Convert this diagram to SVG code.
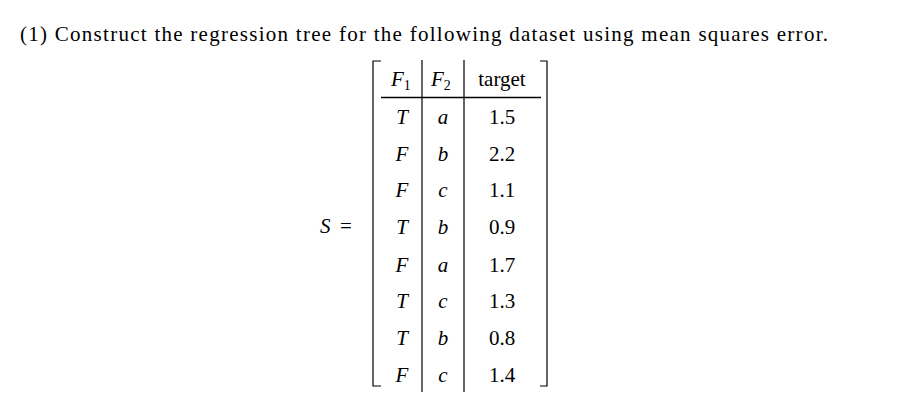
<svg xmlns="http://www.w3.org/2000/svg" width="922" height="406" viewBox="0 0 922 406">
<style>
text{font-family:"Liberation Serif","DejaVu Serif",serif;font-size:21px;fill:#000}
.i{font-style:italic}
.c{text-anchor:middle}
.l{stroke:#000;stroke-width:1.2;fill:none}
</style>
<rect width="922" height="406" fill="#fff"/>
<text x="20" y="41" font-size="22" textLength="808" lengthAdjust="spacing">(1) Construct the regression tree for the following dataset using mean squares error.</text>
<text x="320" y="233" class="i">S</text><text x="340" y="233">=</text>
<path class="l" d="M381,61H373V386H381M540,61H547V386H540" stroke-width="1.6"/>
<path class="l" d="M422,60V392M464,60V392"/>
<path d="M381,97.5H541" stroke="#000" stroke-width="1.4"/>
<text x="391" y="86" class="i">F<tspan font-size="14" font-style="normal" dy="4">1</tspan></text>
<text x="431" y="86" class="i">F<tspan font-size="14" font-style="normal" dy="4">2</tspan></text>
<text x="502" y="86" class="c">target</text>
<g class="c">
<text x="402" y="124" class="i c">T</text><text x="443" y="124" class="i c">a</text><text x="502" y="124" class="c">1.5</text>
<text x="402" y="161" class="i c">F</text><text x="443" y="161" class="i c">b</text><text x="502" y="161" class="c">2.2</text>
<text x="402" y="197" class="i c">F</text><text x="443" y="197" class="i c">c</text><text x="502" y="197" class="c">1.1</text>
<text x="402" y="234" class="i c">T</text><text x="443" y="234" class="i c">b</text><text x="502" y="234" class="c">0.9</text>
<text x="402" y="272" class="i c">F</text><text x="443" y="272" class="i c">a</text><text x="502" y="272" class="c">1.7</text>
<text x="402" y="308" class="i c">T</text><text x="443" y="308" class="i c">c</text><text x="502" y="308" class="c">1.3</text>
<text x="402" y="345" class="i c">T</text><text x="443" y="345" class="i c">b</text><text x="502" y="345" class="c">0.8</text>
<text x="402" y="382" class="i c">F</text><text x="443" y="382" class="i c">c</text><text x="502" y="382" class="c">1.4</text>
</g>
</svg>
